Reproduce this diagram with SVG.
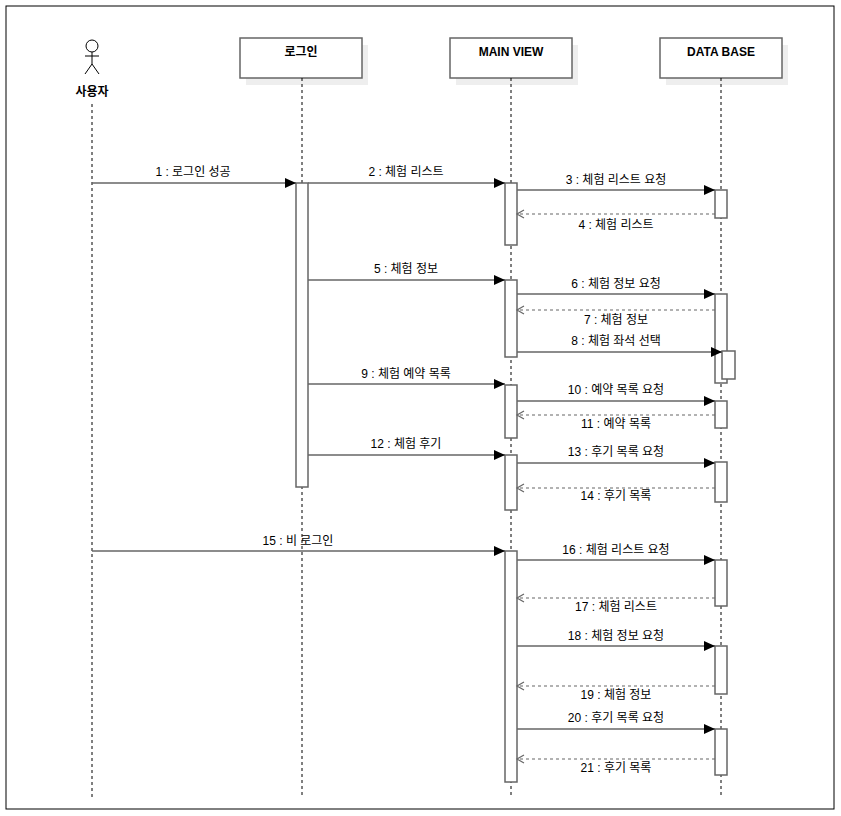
<svg xmlns="http://www.w3.org/2000/svg" width="841" height="816" viewBox="0 0 841 816">
<style>
text{font-family:"Liberation Sans","Noto Sans CJK KR",sans-serif;font-size:12px;fill:#000;text-anchor:middle}
.h{font-weight:bold}
.life{stroke:#000;stroke-dasharray:3,3;fill:none}
.box{fill:#fff;stroke:#666;stroke-width:1.5}
.sh{fill:#eee}
.act{fill:#fff;stroke:#666;stroke-width:1.5}
.m{stroke:#666;stroke-width:1.5;fill:none;marker-end:url(#a)}
.r{stroke:#666;stroke-width:1.2;fill:none;stroke-dasharray:3,3;marker-end:url(#o)}
</style>
<defs>
<marker id="a" markerWidth="12" markerHeight="10" refX="11" refY="5" orient="auto" markerUnits="userSpaceOnUse"><path d="M0,0 L11,5 L0,10 Z" fill="#000"/></marker>
<marker id="o" markerWidth="10" markerHeight="10" refX="8" refY="5" orient="auto" markerUnits="userSpaceOnUse"><path d="M1,1 L8,5 L1,9" fill="none" stroke="#666" stroke-width="1.2"/></marker>
</defs>
<rect width="841" height="816" fill="#fff"/>
<rect x="6" y="6" width="828" height="803" fill="none" stroke="#000"/>
<g id="user">
<circle cx="92" cy="46" r="6" fill="#fff" stroke="#000"/>
<path d="M92,52 V64 M85,56 H99 M92,64 L85,74 M92,64 L99,74" stroke="#000" fill="none"/>
<text class="h" x="92" y="96">사용자</text>
<line class="life" x1="92" y1="104" x2="92" y2="797"/>
</g>
<g id="login">
<rect class="sh" x="246" y="45" width="122" height="40"/>
<rect class="box" x="240" y="38" width="122" height="40"/>
<text class="h" x="301" y="56">로그인</text>
<line class="life" x1="302" y1="78" x2="302" y2="797"/>
<rect class="act" x="296" y="183" width="12" height="304"/>
</g>
<g id="mainview">
<rect class="sh" x="456" y="45" width="122" height="40"/>
<rect class="box" x="450" y="38" width="122" height="40"/>
<text class="h" x="511" y="56">MAIN VIEW</text>
<line class="life" x1="511" y1="78" x2="511" y2="797"/>
<rect class="act" x="505" y="183" width="12" height="62"/>
<rect class="act" x="505" y="280" width="12" height="77"/>
<rect class="act" x="505" y="385" width="12" height="53"/>
<rect class="act" x="505" y="455" width="12" height="55"/>
<rect class="act" x="505" y="551" width="12" height="231"/>
</g>
<g id="database">
<rect class="sh" x="666" y="45" width="122" height="40"/>
<rect class="box" x="660" y="38" width="122" height="40"/>
<text class="h" x="721" y="56">DATA BASE</text>
<line class="life" x1="721" y1="78" x2="721" y2="797"/>
<rect class="act" x="715" y="190" width="12" height="28"/>
<rect class="act" x="715" y="294" width="12" height="89"/>
<rect class="act" x="722" y="351" width="13" height="28"/>
<rect class="act" x="715" y="401" width="12" height="27"/>
<rect class="act" x="715" y="462" width="12" height="40"/>
<rect class="act" x="715" y="560" width="12" height="46"/>
<rect class="act" x="715" y="646" width="12" height="48"/>
<rect class="act" x="715" y="729" width="12" height="46"/>
</g>
<g id="connectors">
<line class="m" x1="92" y1="183" x2="296" y2="183"/><text x="193" y="176">1 : 로그인 성공</text>
<line class="m" x1="308" y1="183" x2="505" y2="183"/><text x="406" y="176">2 : 체험 리스트</text>
<line class="m" x1="517" y1="190" x2="715" y2="190"/><text x="616" y="184">3 : 체험 리스트 요청</text>
<line class="r" x1="715" y1="214" x2="517" y2="214"/><text x="616" y="229">4 : 체험 리스트</text>
<line class="m" x1="308" y1="280" x2="505" y2="280"/><text x="406" y="273">5 : 체험 정보</text>
<line class="m" x1="517" y1="294" x2="715" y2="294"/><text x="616" y="288">6 : 체험 정보 요청</text>
<line class="r" x1="715" y1="310" x2="517" y2="310"/><text x="616" y="324">7 : 체험 정보</text>
<line class="m" x1="517" y1="352" x2="722" y2="352"/><text x="616" y="345">8 : 체험 좌석 선택</text>
<line class="m" x1="308" y1="384" x2="505" y2="384"/><text x="406" y="378">9 : 체험 예약 목록</text>
<line class="m" x1="517" y1="401" x2="715" y2="401"/><text x="616" y="394">10 : 예약 목록 요청</text>
<line class="r" x1="715" y1="415" x2="517" y2="415"/><text x="616" y="428">11 : 예약 목록</text>
<line class="m" x1="308" y1="455" x2="505" y2="455"/><text x="406" y="448">12 : 체험 후기</text>
<line class="m" x1="517" y1="463" x2="715" y2="463"/><text x="616" y="456">13 : 후기 목록 요청</text>
<line class="r" x1="715" y1="488" x2="517" y2="488"/><text x="616" y="500">14 : 후기 목록</text>
<line class="m" x1="92" y1="551" x2="505" y2="551"/><text x="298" y="545">15 : 비 로그인</text>
<line class="m" x1="517" y1="560" x2="715" y2="560"/><text x="616" y="554">16 : 체험 리스트 요청</text>
<line class="r" x1="715" y1="598" x2="517" y2="598"/><text x="616" y="611">17 : 체험 리스트</text>
<line class="m" x1="517" y1="646" x2="715" y2="646"/><text x="616" y="640">18 : 체험 정보 요청</text>
<line class="r" x1="715" y1="686" x2="517" y2="686"/><text x="616" y="699">19 : 체험 정보</text>
<line class="m" x1="517" y1="729" x2="715" y2="729"/><text x="616" y="722">20 : 후기 목록 요청</text>
<line class="r" x1="715" y1="759" x2="517" y2="759"/><text x="616" y="772">21 : 후기 목록</text>
</g>
</svg>
